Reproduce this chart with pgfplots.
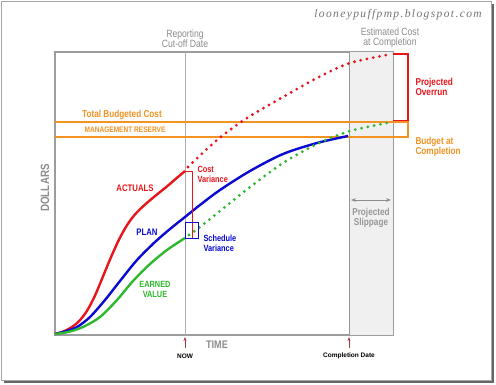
\documentclass[border=0pt]{standalone}
\usepackage{fontspec}
\setmainfont{Liberation Sans}
\newfontfamily\cond[FakeStretch=0.82]{Liberation Sans}
\newfontfamily\wm[LetterSpace=12]{Liberation Serif}
\usepackage{pgfplots}
\pgfplotsset{compat=1.18}
\usetikzlibrary{arrows.meta}
\definecolor{evred}{HTML}{E8151B}
\definecolor{evblue}{HTML}{0A0AD2}
\definecolor{evgreen}{HTML}{2DB82D}
\definecolor{evorange}{HTML}{F39323}
\definecolor{evgray}{HTML}{8C8C8C}
\definecolor{evfill}{HTML}{F0F0F0}
\definecolor{arrowred}{HTML}{A23A3A}
\newcommand{\fs}[2]{\fontsize{#1}{#2}\selectfont}
\begin{document}
\begin{tikzpicture}[x=1pt,y=1pt]
\fill[white] (0,0) rectangle (496,384);
\fill[black!60] (4,1) rectangle (494,380);
\filldraw[fill=white, draw=black!35, line width=0.6pt] (1,4) rectangle (491,383);
\begin{axis}[
  at={(55pt,49pt)}, anchor=south west,
  scale only axis, width=338pt, height=283pt,
  xmin=55, xmax=393, ymin=49, ymax=332,
  xtick=\empty, ytick=\empty,
  axis line style={evgray!85, line width=1.3pt},
  clip=false,
  every node/.style={inner sep=0pt},
  dotted curve/.style={line width=3.1pt, line cap=round, dash pattern=on 0pt off 6.4pt, smooth},
]
% projected slippage region
\addplot[draw=none, fill=evfill] coordinates {(349,49)(393,49)(393,332)(349,332)} -- cycle;
\addplot[evgray!70, line width=0.8pt] coordinates {(185,49)(185,332)};
\addplot[evgray!90, line width=1pt] coordinates {(349,49)(349,332)};
% budget lines
\addplot[evorange, line width=1.1pt] coordinates {(55,262)(408,262)(408,247)(55,247)};
% projected overrun bracket
\addplot[evred, line width=1.1pt] coordinates {(393,330)(408,330)(408,263.5)(393,263.5)};
% Actuals
\addplot[evred, line width=2.4pt, smooth] coordinates {
(55,50)(63,52.4)(71,56.4)(79,62.8)(87,73.2)(95,88.4)(103,107.6)(111,126.8)(119,144.4)(127,158.8)(135,169.6)(143,177.6)(151,184.6)(159,191.2)(167,197.6)(175,204.5)(185,213)};
\addplot[evred, dotted curve] coordinates {
(188,217)(217,244)(247,266)(283,287)(317,306)(350,321)(392,330)};
% Plan
\addplot[evblue, line width=2.4pt, smooth] coordinates {
(55,50)(65,52.5)(77,57)(90,67)(105,84)(120,103)(137,124)(155,142)(170,155)(185,167)(200,179)(220,194)(250,213)(283,230)(317,241)(348,248)};
% Earned value
\addplot[evgreen, line width=2.4pt, smooth] coordinates {
(55,50)(68,52)(83,57)(100,67)(117,84)(133,103)(150,120)(167,134)(185,146)};
\addplot[evgreen, dotted curve] coordinates {
(189,149)(200,157)(225,177)(250,197)(283,221)(317,240)(350,253)(392,262)};
% variance brackets
\addplot[evred, line width=1pt] coordinates {(185,213)(192,213)(192,146)(185,146)};
\addplot[evblue, line width=1pt] coordinates {(185,146)(198,146)(198,162)(185,162)} -- cycle;
% arrows
\addplot[evgray, line width=1pt, {Stealth[length=5pt]}-{Stealth[length=5pt]}] coordinates {(351,184)(391,184)};
\addplot[arrowred, line width=1pt, -{Stealth[length=4pt]}] coordinates {(185,36)(185,47)};
\addplot[arrowred, line width=1pt, -{Stealth[length=4pt]}] coordinates {(349,36)(349,47)};
% labels
\node[evgray, align=center, font=\cond\fs{10.5}{10}] at (axis cs:185,345) {Reporting\\Cut-off Date};
\node[evgray, align=center, font=\cond\fs{10.5}{10}] at (axis cs:390,346) {Estimated Cost\\at Completion};
\node[evorange, font=\cond\bfseries\fs{10}{10}] at (axis cs:122,269) {Total Budgeted Cost};
\node[evorange, font=\cond\bfseries\fs{8}{8}] at (axis cs:125,254.5) {MANAGEMENT RESERVE};
\node[evgray, rotate=90, font=\cond\bfseries\fs{12}{12}] at (axis cs:45,196) {DOLLARS};
\node[evred, font=\cond\bfseries\fs{9.5}{10}] at (axis cs:135,196) {ACTUALS};
\node[evred, anchor=west, align=left, font=\cond\bfseries\fs{9}{10}] at (axis cs:194,210) {Cost\\Variance};
\node[evblue, font=\cond\bfseries\fs{9.5}{10}] at (axis cs:147,152) {PLAN};
\node[evblue, anchor=west, align=left, font=\cond\bfseries\fs{9}{9.5}] at (axis cs:200,140.5) {Schedule\\Variance};
\node[evgreen, align=center, font=\cond\bfseries\fs{9}{10}] at (axis cs:155,95) {EARNED\\VALUE};
\node[evgray, font=\cond\bfseries\fs{11}{11}] at (axis cs:217,39) {TIME};
\node[black, font=\bfseries\fs{6.5}{7}] at (axis cs:185,28) {NOW};
\node[black, font=\bfseries\fs{6.5}{7}] at (axis cs:349,28) {Completion Date};
\node[evred, anchor=west, align=left, font=\cond\bfseries\fs{10}{10}] at (axis cs:412,297) {Projected\\Overrun};
\node[evorange, anchor=west, align=left, font=\cond\bfseries\fs{10}{10}] at (axis cs:412,237) {Budget at\\Completion};
\node[evgray!90, align=center, font=\cond\bfseries\fs{10}{10}] at (axis cs:371,166) {Projected\\Slippage};
\node[black!55, font=\wm\itshape\fs{11.5}{12}] at (axis cs:398,369) {looneypuffpmp.blogspot.com};
\end{axis}
\end{tikzpicture}
\end{document}
